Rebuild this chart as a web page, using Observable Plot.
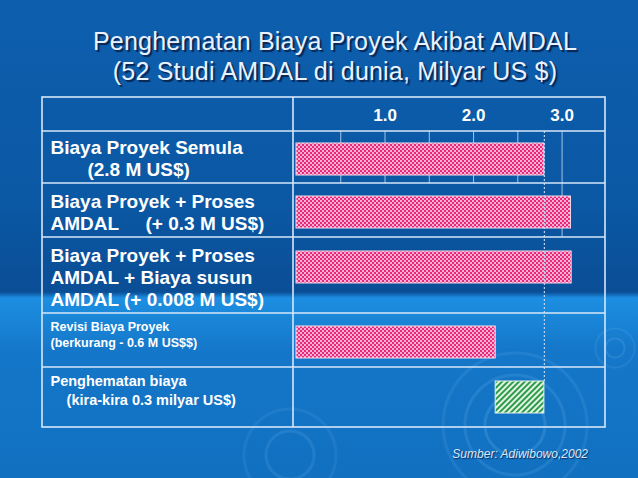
<!DOCTYPE html>
<html>
<head>
<meta charset="utf-8">
<script src="https://cdn.jsdelivr.net/npm/d3@7"></script>
<script src="https://cdn.jsdelivr.net/npm/@observablehq/plot@0.6"></script>
<style>
  html, body { margin: 0; padding: 0; }
  body {
    width: 638px; height: 478px; overflow: hidden; position: relative;
    font-family: "Liberation Sans", Arial, sans-serif;
    background:
      radial-gradient(circle at 515px 425px, transparent 0 28px, rgba(150,210,255,0.16) 29px 31px, transparent 32px 48px, rgba(150,210,255,0.13) 49px 51px, transparent 52px 70px, rgba(150,210,255,0.10) 71px 73px, transparent 74px),
      radial-gradient(circle at 290px 455px, transparent 0 22px, rgba(150,210,255,0.12) 23px 25px, transparent 26px 44px, rgba(150,210,255,0.09) 45px 47px, transparent 48px),
      radial-gradient(circle at 615px 348px, transparent 0 8px, rgba(150,210,255,0.14) 9px 10px, transparent 11px 18px, rgba(150,210,255,0.10) 19px 20px, transparent 21px),
      linear-gradient(to bottom, #0d5fae 0px, #0b58a4 200px, #0a4e96 292px, #1d8ee2 298px, #1a86d8 318px, #1577c9 350px, #1170c0 478px);
  }
  #title {
    position: absolute; top: 26px; left: 0; width: 670px; text-align: center;
    color: #eaf2ff; font-size: 25px; line-height: 30px; letter-spacing: 0.2px;
    text-shadow: 2px 2px 1px #0a2550;
  }
  #chart { position: absolute; top: 96px; left: 0; }
  #source {
    position: absolute; top: 447px; right: 50px;
    color: #dde9f8; font-size: 12px; font-style: italic;
    text-shadow: 1px 1px 1px #0a3060;
  }
</style>
</head>
<body>
<div id="title">Penghematan Biaya Proyek Akibat AMDAL<br>(52 Studi AMDAL di dunia, Milyar US $)</div>
<div id="chart"></div>
<div id="source">Sumber: Adiwibowo,2002</div>
<script>
// ---- data ----
const categories = ["Biaya Proyek Semula", "Biaya Proyek + Proses AMDAL", "Biaya Proyek + Proses AMDAL + Biaya susun AMDAL", "Revisi Biaya Proyek", "Penghematan biaya"];
const labelLines = [
  ["Biaya Proyek Semula", "\u00a0\u00a0\u00a0\u00a0\u00a0\u00a0\u00a0(2.8 M US$)"],
  ["Biaya Proyek + Proses", "AMDAL\u00a0\u00a0\u00a0\u00a0 (+ 0.3 M US$)"],
  ["Biaya Proyek + Proses", "AMDAL + Biaya susun", "AMDAL (+ 0.008 M US$)"],
  ["Revisi Biaya Proyek", "(berkurang - 0.6 M US$$)"],
  ["Penghematan biaya", "\u00a0\u00a0\u00a0\u00a0(kira-kira 0.3 milyar US$)"]
];
const barStart = [0, 0, 0, 0, 2.25];
const barEnd   = [2.8, 3.1, 3.108, 2.25, 2.8];
const barKind  = ["biaya", "biaya", "biaya", "biaya", "hemat"];
const xTicks = [1.0, 2.0, 3.0];
const referenceValue = 2.8;

// ---- layout (style only) ----
const rowUnits = [52, 54, 76, 54, 60];
const fontSizes = [19, 19, 19, 12.5, 14.5];
const lineGap = [22, 22, 22, 16, 19];
const firstLine = [16, 18, 18, 13, 14];
const rowStart = rowUnits.map((_, i) => d3.sum(rowUnits.slice(0, i)));
const total = d3.sum(rowUnits);
const barCenter = rowUnits.map((h, i) => rowStart[i] + Math.min(h / 2, 28) + 2);

const bars = categories.map((c, i) => ({
  category: c, start: barStart[i], end: barEnd[i], kind: barKind[i],
  y1: barCenter[i] - 16, y2: barCenter[i] + 16
}));
const lines = labelLines.flatMap((ls, i) => ls.map((t, j) => ({
  text: t, y: rowStart[i] + firstLine[i] + j * lineGap[i], size: fontSizes[i]
})));

const defs = () => {
  const d = d3.create("svg:defs");
  const p = d.append("pattern").attr("id", "pinkPat").attr("patternUnits", "userSpaceOnUse")
    .attr("width", 4).attr("height", 4);
  p.append("rect").attr("width", 4).attr("height", 4).attr("fill", "#e8287a");
  p.append("rect").attr("width", 2).attr("height", 2).attr("fill", "#f9aed2");
  p.append("rect").attr("x", 2).attr("y", 2).attr("width", 2).attr("height", 2).attr("fill", "#f9aed2");
  const g = d.append("pattern").attr("id", "greenPat").attr("patternUnits", "userSpaceOnUse")
    .attr("width", 4).attr("height", 4).attr("patternTransform", "rotate(45)");
  g.append("rect").attr("width", 4).attr("height", 4).attr("fill", "#e2f5e2");
  g.append("rect").attr("width", 2).attr("height", 4).attr("fill", "#2f9a4c");
  return d.node();
};

const tableGrid = (index, scales) => {
  const L = 42, R = 605, C = 293;
  const g = d3.create("svg:g").attr("fill", "none").attr("stroke", "#d6e7f8").attr("stroke-width", 1.6);
  const yb = scales.y(total);
  g.append("rect").attr("x", L).attr("y", 1).attr("width", R - L).attr("height", yb - 1);
  g.append("line").attr("x1", C).attr("x2", C).attr("y1", 1).attr("y2", yb);
  rowStart.forEach(s => {
    g.append("line").attr("x1", L).attr("x2", R).attr("y1", scales.y(s)).attr("y2", scales.y(s));
  });
  return g.node();
};

const chart = Plot.plot({
  width: 638, height: 336,
  marginLeft: 296, marginRight: 41, marginTop: 35, marginBottom: 5,
  x: { domain: [0, 3.4] },
  y: { domain: [0, total], range: [35, 331], axis: null },
  style: { background: "transparent", color: "white", fontFamily: "'Liberation Sans', Arial, sans-serif", overflow: "visible" },
  marks: [
    defs,
    Plot.ruleX([0.5, 1, 1.5, 2, 2.5, 3], { y1: 0, y2: rowUnits[0], stroke: "#c9def4", strokeWidth: 1, strokeOpacity: 0.8 }),
    Plot.ruleX([3], { y1: rowUnits[0], y2: rowStart[2], stroke: "#c9def4", strokeWidth: 1, strokeOpacity: 0.8 }),
    Plot.rect(bars.filter(d => d.kind === "biaya"), { x1: "start", x2: "end", y1: "y1", y2: "y2", fill: "url(#pinkPat)", stroke: "#fbdcea", strokeWidth: 1 }),
    Plot.rect(bars.filter(d => d.kind === "hemat"), { x1: "start", x2: "end", y1: "y1", y2: "y2", fill: "url(#greenPat)", stroke: "#e4f4e4", strokeWidth: 1 }),
    Plot.ruleX([referenceValue], { y1: 0, y2: bars[4].y1, stroke: "#b9d4f2", strokeWidth: 1.2, strokeDasharray: "2,2" }),
    tableGrid,
    Plot.axisX(xTicks, { anchor: "top", tickSize: 0, tickPadding: 11, tickFormat: d => d.toFixed(1), fontSize: 17, fontWeight: "bold", fill: "white", label: null }),
    Plot.text(lines, { text: "text", y: "y", fontSize: "size", frameAnchor: "left", dx: -246, textAnchor: "start", fontWeight: "bold", fill: "white" })
  ]
});
document.getElementById("chart").appendChild(chart);
</script>
</body>
</html>
